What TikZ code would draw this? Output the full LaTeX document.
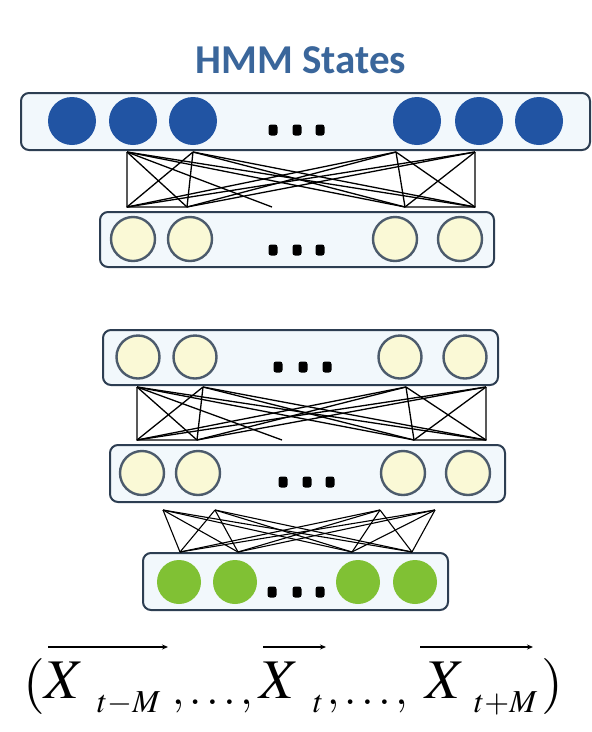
\documentclass[tikz,border=0pt]{standalone}
\usepackage{mathptmx}
\usepackage{fontspec}
\usetikzlibrary{arrows.meta}
\newfontfamily\titulo{Carlito}
\definecolor{azulHMM}{RGB}{58,102,155}
\definecolor{azulEstado}{RGB}{33,84,163}
\definecolor{amarillo}{RGB}{250,249,214}
\definecolor{verde}{RGB}{128,193,52}
\definecolor{borde}{RGB}{45,62,82}
\definecolor{fondo}{RGB}{242,248,252}
\tikzset{
  capa/.style={draw=borde, line width=2pt, fill=fondo, rounded corners=8pt, inner sep=0pt},
  oculto/.style={circle, draw=borde!85, line width=2.4pt, fill=amarillo, inner sep=0pt},
  estado/.style={circle, fill=azulEstado, inner sep=0pt},
  entrada/.style={circle, fill=verde, inner sep=0pt},
  punto/.style={fill=black, rounded corners=2.5pt, minimum width=9pt, minimum height=11pt, inner sep=0pt},
  enlace/.style={black, line width=1.3pt},
  grande/.style={anchor=base west, inner sep=0pt, font=\fontsize{56}{60}\selectfont},
  indice/.style={anchor=base west, inner sep=0pt, font=\fontsize{32}{36}\selectfont},
  separa/.style={anchor=base west, inner sep=0pt, font=\fontsize{44}{48}\selectfont},
  flecha/.style={line width=1.5pt, -{Stealth[length=6pt, width=5pt]}}
}
\begin{document}
\begin{tikzpicture}[x=1pt, y=-1pt]
    \useasboundingbox[fill=white] (0,0) rectangle (592,732);
    % Titulo
    \node[text=azulHMM, font=\titulo\bfseries\fontsize{41}{46}\selectfont] (titulo) at (301,60) {HMM States};
    % Capa de estados HMM
    \node[capa, minimum width=569pt, minimum height=57pt] (capaHMM) at (305.5,121.5) {};
    \foreach \x [count=\i] in {72,133,193,417,479,539}
        \node[estado, minimum size=48pt] (hmm\i) at (\x,121) {};
    \foreach \x [count=\i] in {273,297,320}
        \node[punto] (pa\i) at (\x,130) {};
    % Primera capa oculta
    \node[capa, minimum width=394pt, minimum height=55pt] (capaA) at (297,239.5) {};
    \foreach \x [count=\i] in {133,190,395,460}
        \node[oculto, minimum size=44pt] (a\i) at (\x,239) {};
    \foreach \x [count=\i] in {273,297,320}
        \node[punto] (pb\i) at (\x,250) {};
    % Segunda capa oculta
    \node[capa, minimum width=395pt, minimum height=55pt] (capaB) at (300.5,357.5) {};
    \foreach \x [count=\i] in {138,195,400,465}
        \node[oculto, minimum size=43pt] (b\i) at (\x,357) {};
    \foreach \x [count=\i] in {278,303,327}
        \node[punto] (pc\i) at (\x,367) {};
    % Tercera capa oculta
    \node[capa, minimum width=395pt, minimum height=57pt] (capaC) at (307.5,473.5) {};
    \foreach \x [count=\i] in {142,198,403,468}
        \node[oculto, minimum size=44pt] (c\i) at (\x,473) {};
    \foreach \x [count=\i] in {283,307,330}
        \node[punto] (pd\i) at (\x,482) {};
    % Capa de entrada
    \node[capa, minimum width=305pt, minimum height=57pt] (capaX) at (295.5,581.5) {};
    \foreach \x [count=\i] in {179,235,358,415}
        \node[entrada, minimum size=44pt] (x\i) at (\x,582) {};
    \foreach \x [count=\i] in {272,297,320}
        \node[punto] (pe\i) at (\x,592) {};
    % Puntos de las conexiones entre capas
    \foreach \x [count=\i] in {127,193,396,475}
        \coordinate (s\i) at (\x,152);
    \foreach \x [count=\i] in {127,187,405,475}
        \coordinate (t\i) at (\x,207);
    \coordinate (tm) at (272,207);
    \foreach \x [count=\i] in {137,203,406,486}
        \coordinate (u\i) at (\x,387);
    \foreach \x [count=\i] in {137,197,414,486}
        \coordinate (v\i) at (\x,440);
    \coordinate (vm) at (282,440);
    \foreach \x [count=\i] in {163,215,380,435}
        \coordinate (p\i) at (\x,510);
    \foreach \x [count=\i] in {180,238,352,412}
        \coordinate (q\i) at (\x,552);
    % Conexiones HMM - primera oculta
    \draw[enlace] (s1) -- (t1) -- (t2) (s2) -- (t2);
    \draw[enlace] (s3) -- (t3) -- (t4) -- (s4);
    \draw[enlace] (s1) -- (t2) (s2) -- (t1) (s3) -- (t4) (s4) -- (t3);
    \foreach \i in {1,2} \foreach \j in {3,4} {
        \draw[enlace] (s\i) -- (t\j);
        \draw[enlace] (s\j) -- (t\i);
    }
    \draw[enlace] (s1) -- (tm);
    % Conexiones entre capas ocultas
    \draw[enlace] (u1) -- (v1) -- (v2) (u2) -- (v2);
    \draw[enlace] (u3) -- (v3) -- (v4) -- (u4);
    \draw[enlace] (u1) -- (v2) (u2) -- (v1) (u3) -- (v4) (u4) -- (v3);
    \foreach \i in {1,2} \foreach \j in {3,4} {
        \draw[enlace] (u\i) -- (v\j);
        \draw[enlace] (u\j) -- (v\i);
    }
    \draw[enlace] (u1) -- (vm);
    % Conexiones entrada - oculta
    \foreach \i in {1,...,4} \foreach \j in {1,...,4}
        \draw[enlace, line width=1.1pt] (p\i) -- (q\j);
    % Vector de entrada
    \node[grande] (abre) at (23,700) {$($};
    \node[grande] (xa) at (44,698) {$X$};
    \node[indice] (ia) at (97,712) {$t{-}M$};
    \node[separa] (sepa) at (172,704) {$,\ldots,$};
    \node[grande] (xb) at (259,698) {$X$};
    \node[indice] (ib) at (313,712) {$t$};
    \node[separa] (sepb) at (327,704) {$,\ldots,$};
    \node[grande] (xc) at (425,698) {$X$};
    \node[indice] (ic) at (474,712) {$t{+}M$};
    \node[grande] (cierra) at (541,700) {$)$};
    \coordinate (fa1) at (48,647);  \coordinate (fa2) at (168,647);
    \coordinate (fb1) at (263,647); \coordinate (fb2) at (326,647);
    \coordinate (fc1) at (420,647); \coordinate (fc2) at (533,647);
    \draw[flecha] (fa1) -- (fa2);
    \draw[flecha] (fb1) -- (fb2);
    \draw[flecha] (fc1) -- (fc2);
\end{tikzpicture}
\end{document}
